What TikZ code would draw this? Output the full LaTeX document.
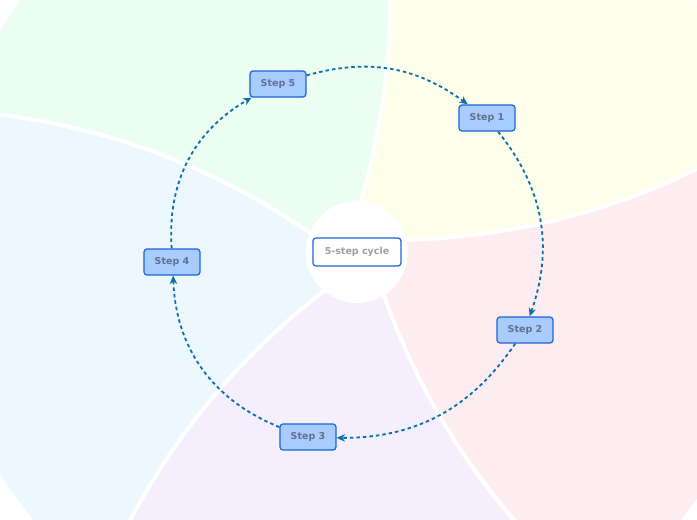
\documentclass[tikz,border=0pt]{standalone}
\usepackage{fontspec}
\usetikzlibrary{arrows.meta}
\newfontfamily\stepfont{DejaVu Sans}
\definecolor{petalyellow}{RGB}{254,255,235}
\definecolor{petalpink}{RGB}{253,237,240}
\definecolor{petallilac}{RGB}{244,238,253}
\definecolor{petalblue}{RGB}{236,248,254}
\definecolor{petalgreen}{RGB}{236,253,241}
\definecolor{boxblue}{RGB}{28,100,216}
\definecolor{boxfill}{RGB}{168,204,253}
\definecolor{steptext}{RGB}{98,112,140}
\definecolor{flowblue}{RGB}{10,110,170}
\tikzset{
	stepbox/.style={draw=boxblue, fill=boxfill, line width=1.2pt, rounded corners=3pt,
		minimum width=56pt, minimum height=26pt, inner sep=0pt, text=steptext,
		font=\stepfont\bfseries\fontsize{9.5}{11}\selectfont},
	hubbox/.style={stepbox, fill=white, text=gray!75, minimum width=88pt, minimum height=28pt},
	flow/.style={-{Stealth[length=8.5pt,width=7.5pt]}, draw=flowblue, line width=1.8pt, dash pattern=on 3.5pt off 3pt},
	petalline/.style={white, line width=4pt}
}
\begin{document}
\begin{tikzpicture}[x=1pt,y=1pt]
	\useasboundingbox (-357,-268) rectangle (340,252);
	
	%PETALS
	\begin{scope}
	\clip (0,0) circle (420);
	\foreach \a/\c in {0/petalyellow,-72/petalpink,-144/petallilac,144/petalblue,72/petalgreen}
	\fill[\c] (0,0) -- ([rotate=\a]40,12) .. controls ([rotate=\a]180,14) and ([rotate=\a]320,55) .. ([rotate=\a]450,150)
		-- ([rotate=\a+54]600,0) -- ([rotate=\a+72]450,150)
		.. controls ([rotate=\a+72]320,55) and ([rotate=\a+72]180,14) .. ([rotate=\a+72]40,12) -- cycle;
	\foreach \a in {0,72,...,288}
	\draw[petalline] ([rotate=\a]40,12) .. controls ([rotate=\a]180,14) and ([rotate=\a]320,55) .. ([rotate=\a]450,150);
	\end{scope}
	\fill[white] (0,0) circle (51);
	\draw[gray!10, dotted, line width=0.8pt] (0,0) circle (189);
	
	%STEPS
	\node[hubbox] (hub) at (0,0) {5-step cycle};
	\node[stepbox] (s1) at (130,134) {Step 1};
	\node[stepbox] (s2) at (168,-78) {Step 2};
	\node[stepbox] (s3) at (-49,-185) {Step 3};
	\node[stepbox] (s4) at (-185,-10) {Step 4};
	\node[stepbox] (s5) at (-79,168) {Step 5};
	
	%ARROWS
	\draw[flow] (s5) to[bend left=26] (s1);
	\draw[flow] (s1) to[bend left=29] (s2);
	\draw[flow] (s2) to[bend left=28] (s3);
	\draw[flow] (s3) to[bend left=33] (s4);
	\draw[flow] (s4) to[bend left=32] (s5);
\end{tikzpicture}
\end{document}
